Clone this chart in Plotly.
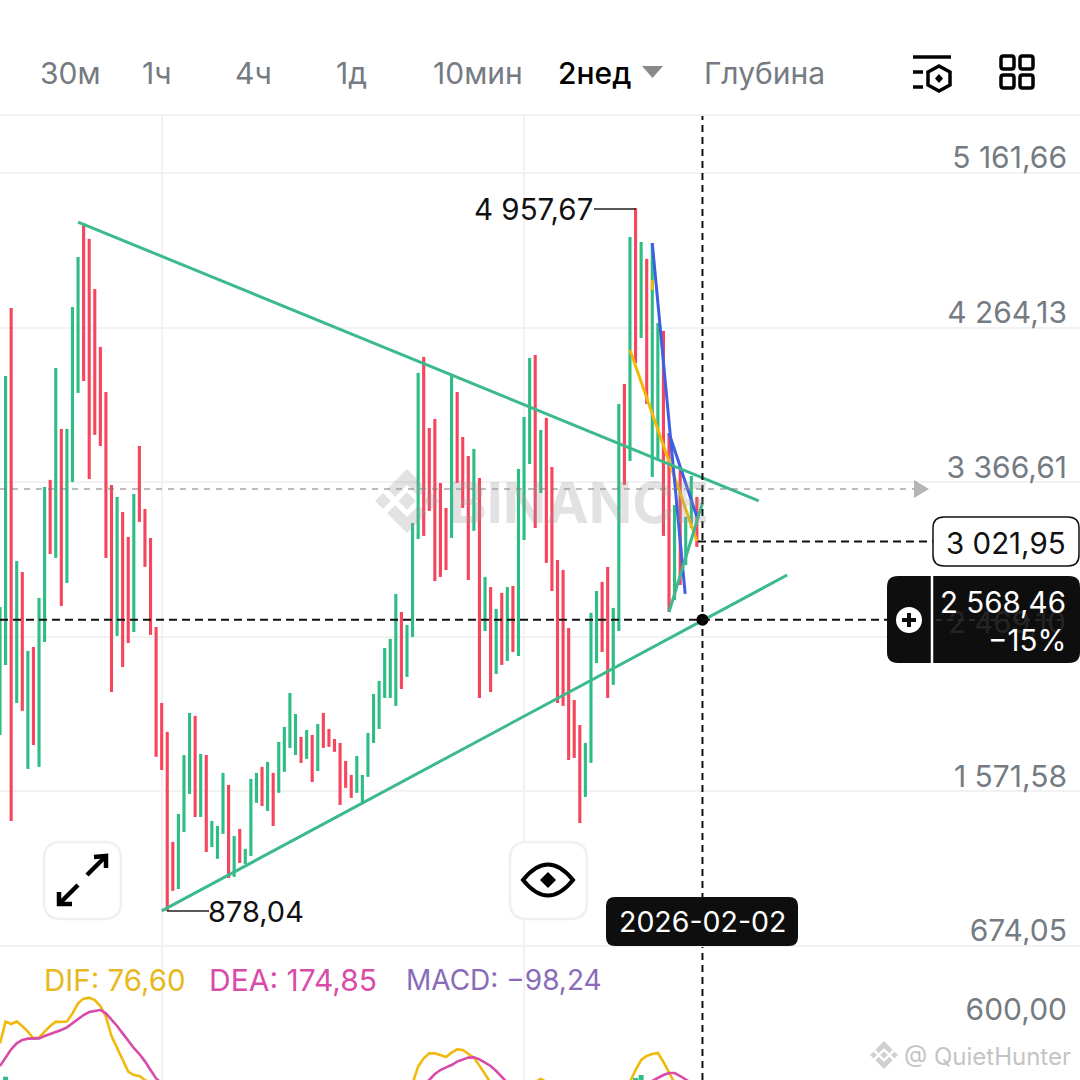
import plotly.graph_objects as go

# ----- price bars, one per period
bar_dir = ('GGRGRGRGGR' 'GRGGGRRRRR' 'RGRRGRRRRR' 'RRGGGRGRGG' 'GRGRGGGRGR'
           'GGGGRGRGRR' 'RRRRGGGGGG' 'GGRGGGRRRR' 'RGRRRGRGRG' 'RGRGGGRGRR'
           'RRRRRGGGRR' 'GGRGRGRGGR' 'RGRGGR')
bar_high = [2642, 3983, 4378, 2909, 2845, 2387, 2410, 2695, 3339, 3380,
            4030, 3676, 3676, 4384, 4674, 4871, 4779, 4488, 4152, 3890,
            3351, 3281, 3194, 3049, 3298, 3577, 3211, 3043, 2526, 2085,
            1917, 1278, 1441, 1783, 2027, 2010, 1789, 1783, 1400, 1371,
            1679, 1609, 1313, 1354, 1238, 1644, 1679, 1714, 1743, 1679,
            1859, 1946, 2143, 2021, 1888, 1928, 1899, 1963, 2027, 1934,
            1876, 1853, 1748, 1667, 1777, 1667, 1911, 2137, 2213, 2404,
            2457, 2718, 2613, 2538, 3130, 4001, 4094, 3681, 3734, 3362,
            3217, 3989, 3890, 3629, 3519, 3560, 3391, 2817, 2758, 2631,
            2724, 2758, 2764, 3443, 3745, 4088, 4105, 3670, 3740, 3455,
            2915, 2857, 2520, 2102, 1957, 1853, 2608, 2735, 2788, 2875,
            2637, 3821, 3937, 4790, 4957.67, 4761, 4663, 4755, 4291, 4245,
            3652, 3234, 3438, 3165, 3403, 3281]
bar_low = [1899, 2306, 1400, 2085, 2039, 1702, 1841, 1714, 2439, 2950,
           2927, 2648, 2782, 3368, 3885, 3954, 3385, 3641, 3577, 2927,
           2149, 2474, 2294, 2433, 2497, 3136, 2875, 2480, 1772, 1696,
           878.04, 994, 1005, 1336, 1557, 1423, 1423, 1220, 1249, 1180,
           1325, 1069, 1075, 1156, 1150, 1197, 1505, 1487, 1458, 1371,
           1563, 1685, 1824, 1783, 1737, 1760, 1626, 1690, 1824, 1830,
           1801, 1493, 1592, 1534, 1563, 1510, 1656, 1853, 1934, 2114,
           2114, 2068, 2166, 2236, 2468, 3037, 3055, 3200, 2793, 2817,
           2857, 3043, 3362, 3217, 2799, 3084, 2114, 2503, 2149, 2253,
           2306, 2329, 2381, 2358, 3031, 3472, 3101, 3304, 2898, 2735,
           2085, 2068, 1754, 1766, 1388, 1539, 1737, 2317, 2381, 2114,
           2190, 2503, 3351, 3490, 4059, 4204, 3821, 3397, 3496, 3055,
           2613, 2683, 2770, 2886, 3101, 2991]

# ----- hand drawn lines on the chart (bar index, price)
trend_down_x, trend_down_y = [14, 136.1], [4877, 3258]
trend_up_x, trend_up_y = [29, 141.2], [878, 2828]
wedge_x, wedge_y = [120, 126], [2613, 3246]
blue_a_x, blue_a_y = [117, 122.9], [4755, 2718]
blue_b_x, blue_b_y = [120, 125], [3652, 3165]
yellow_x, yellow_y = [113, 125], [4134, 3025]
yellow_tick_x, yellow_tick_y = [117, 117], [4541, 4483]

# ----- macd pane, only the parts that stay in view
dif_parts = [(0, [445, 619, 600, 619, 584, 539, 485, 491, 539, 584, 619, 616, 619, 685,
                  765, 803, 811, 792, 744, 659, 504, 411, 312, 219, 192, 184, 152, 125]),
             (74, [125, 259, 325, 365, 365, 349, 336, 371, 397, 392, 365, 331, 267, 192, 131]),
             (96, [136, 160, 136]),
             (113, [136, 232, 312, 344, 360, 368, 296, 208, 128])]
dea_parts = [(0, [264, 333, 397, 445, 472, 483, 485, 485, 504, 520, 533, 552, 573, 605, 637,
                  672, 696, 707, 712, 685, 637, 584, 525, 467, 408, 360, 301, 232, 165, 125]),
             (76, [120, 152, 200, 232, 253, 272, 299, 317, 331, 333, 317, 291, 264, 224, 179, 131]),
             (117, [144, 168, 192, 208, 208, 184, 152, 128])]
hist_x = [1, 114, 115]
hist_y = [178, 168, 192]

# ----- axis labels (the 2 469,10 one sits under the black tag, drawn as a note further down)
price_ticks = [5161.66, 4264.13, 3366.61, 2469.10, 1571.58, 674.05]
price_labels = ['5 161,66', '4 264,13', '3 366,61', '', '1 571,58', '674,05']
last_price = 2568.46
target_price = 3021.95
mark_price = 3327
cross_bar = 126
grid_bars = [29, 94]

tabs = [('30м', 71), ('1ч', 157), ('4ч', 253), ('1д', 351), ('10мин', 478), ('Глубина', 765)]

GREEN = '#2EBD85'
RED = '#F6465D'
LINE_GREEN = '#3CB98D'
YELLOW = '#F0B90B'
BLUE = '#3F5FE3'
GRID = '#F2F2F2'
GREY_TXT = '#757B82'
FONT = 'Inter'


def xp(v):
    return round(v / 1080, 5)


def yp(v):
    return round(1 - v / 1080, 5)


def poly(pts, close=True):
    s = 'M ' + ' L '.join(f'{xp(a)} {yp(b)}' for a, b in pts)
    return s + (' Z' if close else '')


def rrect(x0, y0, x1, y1, r):
    return (f'M {xp(x0 + r)} {yp(y0)} L {xp(x1 - r)} {yp(y0)} Q {xp(x1)} {yp(y0)} {xp(x1)} {yp(y0 + r)} '
            f'L {xp(x1)} {yp(y1 - r)} Q {xp(x1)} {yp(y1)} {xp(x1 - r)} {yp(y1)} '
            f'L {xp(x0 + r)} {yp(y1)} Q {xp(x0)} {yp(y1)} {xp(x0)} {yp(y1 - r)} '
            f'L {xp(x0)} {yp(y0 + r)} Q {xp(x0)} {yp(y0)} {xp(x0 + r)} {yp(y0)} Z')


shapes = []


def path(d, fill=None, line=None, width=0):
    shapes.append(dict(type='path', xref='paper', yref='paper', path=d,
                       fillcolor=fill if fill else 'rgba(0,0,0,0)',
                       line=dict(color=line if line else 'rgba(0,0,0,0)', width=width)))


def seg(x0, y0, x1, y1, color, width, dash='solid'):
    shapes.append(dict(type='line', xref='paper', yref='paper', x0=xp(x0), x1=xp(x1),
                       y0=yp(y0), y1=yp(y1), line=dict(color=color, width=width, dash=dash)))


def logo(cx, cy, s, color):
    parts = [[(0, -.27), (.27, 0), (0, .27), (-.27, 0)],
             [(-.75, -.25), (-.5, 0), (-.75, .25), (-1, 0)],
             [(.75, -.25), (1, 0), (.75, .25), (.5, 0)],
             [(0, -1), (.62, -.38), (.37, -.13), (0, -.5), (-.37, -.13), (-.62, -.38)],
             [(0, 1), (.62, .38), (.37, .13), (0, .5), (-.37, .13), (-.62, .38)]]
    for p in parts:
        path(poly([(cx + a * s, cy + b * s) for a, b in p]), fill=color)


annos = []


def note(text, x, y, size, color, anchor='center', weight=400, font=FONT):
    annos.append(dict(text=text, x=xp(x), y=yp(y), xref='paper', yref='paper', showarrow=False,
                      xanchor=anchor, yanchor='middle', borderpad=0, align='left',
                      font=dict(size=size, color=color, family=font, weight=weight)))


def parts_xy(parts):
    xs, ys = [], []
    for start, vals in parts:
        xs += list(range(start, start + len(vals))) + [None]
        ys += vals + [None]
    return xs, ys


fig = go.Figure()

# ----- bars
fig.add_trace(go.Bar(x=list(range(len(bar_high))),
                     y=[h - l for h, l in zip(bar_high, bar_low)], base=bar_low,
                     width=0.56, marker=dict(color=[GREEN if d == 'G' else RED for d in bar_dir], line_width=0),
                     xaxis='x', yaxis='y'))


def line(x, y, color, w=3):
    fig.add_trace(go.Scatter(x=x, y=y, mode='lines', line=dict(color=color, width=w), xaxis='x', yaxis='y'))


line(yellow_x, yellow_y, YELLOW)
line(yellow_tick_x, yellow_tick_y, YELLOW)
line(blue_a_x, blue_a_y, BLUE)
line(blue_b_x, blue_b_y, BLUE)
line(trend_down_x, trend_down_y, LINE_GREEN)
line(trend_up_x, trend_up_y, LINE_GREEN)
line(wedge_x, wedge_y, LINE_GREEN)
fig.add_trace(go.Scatter(x=[cross_bar], y=[last_price], mode='markers',
                         marker=dict(color='#000000', size=12), xaxis='x', yaxis='y'))

# ----- macd
fig.add_trace(go.Bar(x=hist_x, y=hist_y, width=0.9, marker=dict(color=GREEN, line_width=0), xaxis='x2', yaxis='y2'))
dx, dy = parts_xy(dif_parts)
fig.add_trace(go.Scatter(x=dx, y=dy, mode='lines', line=dict(color=YELLOW, width=2.6), xaxis='x2', yaxis='y2'))
ex, ey = parts_xy(dea_parts)
fig.add_trace(go.Scatter(x=ex, y=ey, mode='lines', line=dict(color='#D94BA9', width=2.6), xaxis='x2', yaxis='y2'))

# ----- dashed levels
shapes.append(dict(type='line', xref='x', yref='y', x0=0, x1=164, y0=mark_price, y1=mark_price,
                   line=dict(color='rgba(120,120,120,0.65)', width=1.4, dash='6px,6px')))
shapes.append(dict(type='line', xref='x', yref='y', x0=0, x1=160, y0=last_price, y1=last_price,
                   line=dict(color='#111111', width=2, dash='8px,5px')))
shapes.append(dict(type='line', xref='x', yref='y', x0=125.2, x1=167.5, y0=target_price, y1=target_price,
                   line=dict(color='#111111', width=2, dash='8px,5px')))
shapes.append(dict(type='line', xref='x', yref='paper', x0=cross_bar, x1=cross_bar, y0=0, y1=yp(115),
                   line=dict(color='#111111', width=2, dash='7px,5px')))

# ----- pane borders and high / low leaders
seg(0, 115, 1080, 115, GRID, 2)
seg(0, 946, 1080, 946, GRID, 2)
seg(594, 209, 636, 209, '#222222', 1.3)
seg(167, 911, 209, 911, '#222222', 1.3)

# ----- watermark
logo(407, 501, 32, 'rgba(150,150,150,0.28)')
note('BINANCE', 579, 503, 57, 'rgba(150,150,150,0.28)', weight=700)

# ----- price tags
path(rrect(933, 517, 1079, 566, 11), fill='#FFFFFF', line='#111111', width=1.5)
path(rrect(887, 576, 1080, 663, 11), fill='#0E0E0E')
seg(932, 576, 932, 663, '#FFFFFF', 2.5)
seg(936, 620, 1066, 620, '#333333', 1.5, '6px,5px')
path(poly([(914, 480), (929, 489), (914, 498)]), fill='#B5B5B5')
shapes.append(dict(type='circle', xref='paper', yref='paper', x0=xp(896), x1=xp(922), y0=yp(633), y1=yp(607),
                   fillcolor='#FFFFFF', line_width=0))
seg(902, 620, 916, 620, '#0E0E0E', 4)
seg(909, 613, 909, 627, '#0E0E0E', 4)
note('3 021,95', 1067, 543, 29.5, '#111111', 'right')
note('2 469,10', 1067, 622, 29.5, '#242424', 'right')
note('2 568,46', 1067, 602, 29.5, '#FFFFFF', 'right')
note('−15%', 1067, 640, 29.5, '#FFFFFF', 'right')

# ----- buttons
path(rrect(44, 842, 121, 919, 17), fill='#FFFFFF', line='#F0F0F0', width=2.5)
path(rrect(510, 842, 587, 919, 17), fill='#FFFFFF', line='#F0F0F0', width=2.5)
path(poly([(87, 875), (106, 856)], False), line='#000000', width=4.5)
path(poly([(94, 857), (106, 856), (106, 868)], False), line='#000000', width=4.5)
path(poly([(78, 885), (59, 904)], False), line='#000000', width=4.5)
path(poly([(59, 892), (59, 904), (72, 904)], False), line='#000000', width=4.5)
path(f'M {xp(523)} {yp(880)} Q {xp(548)} {yp(849)} {xp(573)} {yp(880)} '
     f'Q {xp(548)} {yp(911)} {xp(523)} {yp(880)} Z', line='#000000', width=4)
path(poly([(548, 872), (556, 880), (548, 888), (540, 880)]), fill='#000000')

# ----- top bar icons
seg(913, 57, 951, 57, '#000000', 3.5)
seg(913, 72, 923, 72, '#000000', 3.5)
seg(913, 87, 923, 87, '#000000', 3.5)
path(poly([(939, 66), (950, 72), (950, 85), (939, 91), (928, 85), (928, 72)]), line='#000000', width=3.5)
path(poly([(939, 74), (943, 78.5), (939, 83), (935, 78.5)]), fill='#000000')
for x0, y0 in [(1001, 56), (1020, 56), (1001, 75), (1020, 75)]:
    path(rrect(x0, y0, x0 + 13, y0 + 13, 2.5), line='#000000', width=3.5)
path(poly([(642, 66), (663, 66), (652.5, 78)]), fill='#8A8A8A')

# ----- texts
for text, cx in tabs:
    note(text, cx, 73, 30, GREY_TXT)
note('2нед', 594, 73, 30, '#000000', weight=500)
note('4 957,67', 594, 209, 29.5, '#111111', 'right')
note('878,04', 207, 912, 29, '#111111', 'left')
path(rrect(606, 897, 798, 946, 9), fill='#0E0E0E')
note('2026-02-02', 702, 922, 28.5, '#FFFFFF')
note('DIF: 76,60', 43, 980, 29.5, '#E7B820', 'left')
note('DEA: 174,85', 208, 980, 30, '#D94BA9', 'left')
note('MACD: −98,24', 405, 980, 28, '#8A6BB8', 'left')
logo(884, 1055, 14, 'rgba(150,150,150,0.45)')
note('@ QuietHunter', 903, 1056, 24, '#C4C4C4', 'left')

# pane split sits a little under the 674,05 tick so plotly keeps that label
axis_x = dict(range=[0, 193.72], showgrid=True, gridcolor=GRID, gridwidth=2, tickvals=grid_bars,
              showticklabels=False, ticks='', zeroline=False, showline=False)
fig.update_layout(
    width=1080, height=1080, margin=dict(l=0, r=0, t=0, b=0),
    paper_bgcolor='#FFFFFF', plot_bgcolor='#FFFFFF', showlegend=False, barmode='overlay',
    xaxis=dict(axis_x, anchor='y', domain=[0, 1]),
    xaxis2=dict(axis_x, anchor='y2', domain=[0, 1], matches='x'),
    yaxis=dict(domain=[0.12037, 0.89352], range=[650.83, 5498.35], side='right', tickvals=price_ticks,
               ticktext=price_labels, ticklabelposition='inside top', ticks='', showgrid=True, gridcolor=GRID,
               gridwidth=2, zeroline=False, tickfont=dict(family=FONT, size=30, color=GREY_TXT), anchor='x',
               ticklabelstandoff=10, ticklabelshift=6),
    yaxis2=dict(domain=[0, 0.12037], range=[152, 1192], side='right', tickvals=[600], ticktext=['600,00'],
                ticklabelposition='inside top', ticks='', showgrid=False, zeroline=False,
                tickfont=dict(family=FONT, size=30, color=GREY_TXT), anchor='x2',
                ticklabelstandoff=10, ticklabelshift=6),
    shapes=shapes, annotations=annos,
)

fig.write_html('out.html', config=dict(displayModeBar=False),
               post_script="document.body.style.margin='0';document.body.style.overflow='hidden';")
